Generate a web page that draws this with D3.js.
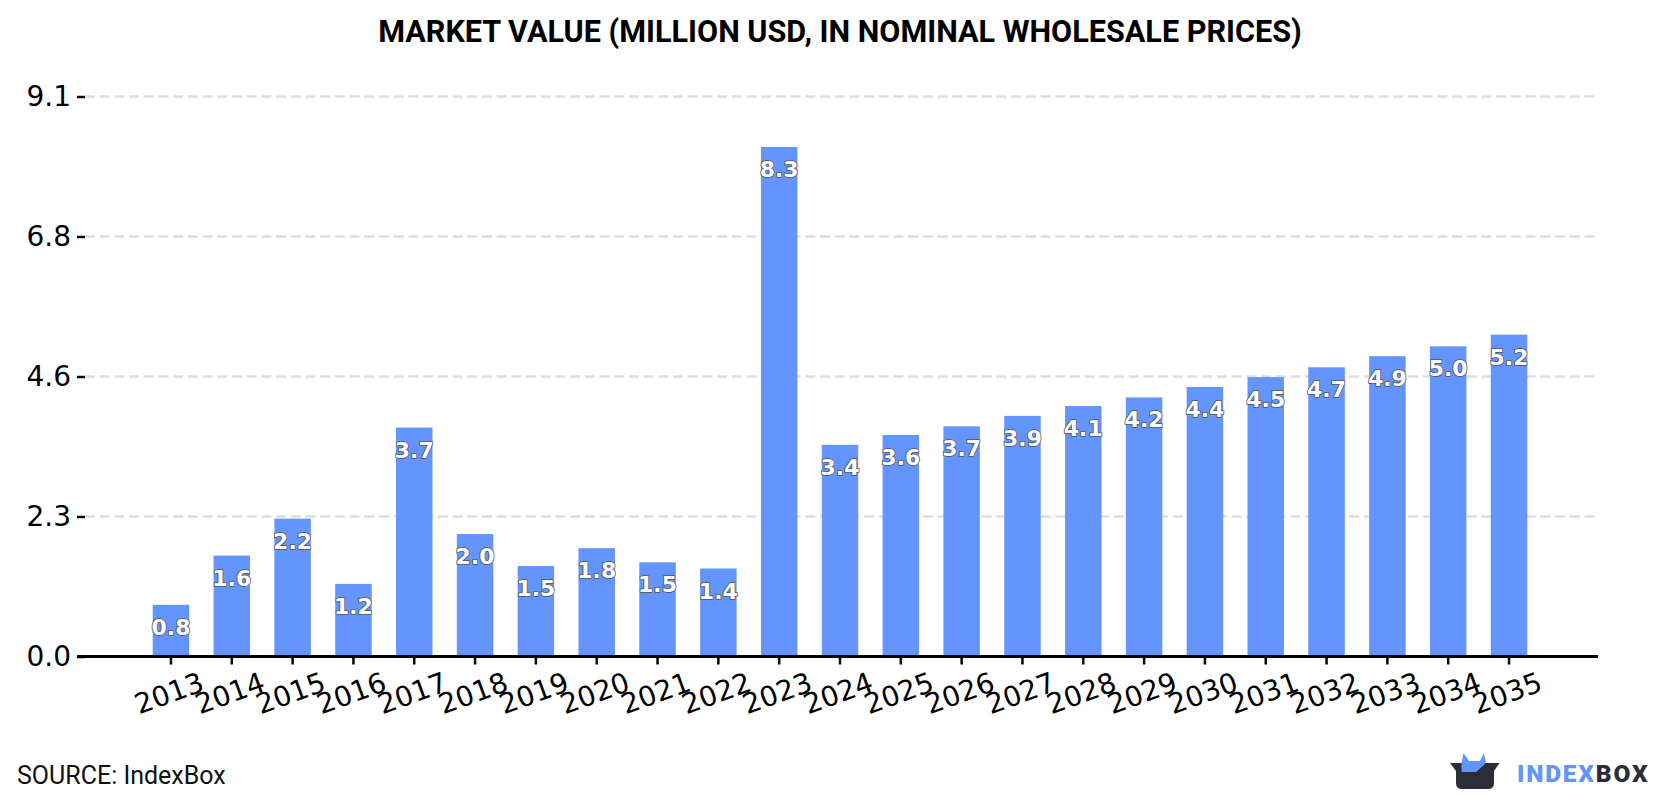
<!DOCTYPE html>
<html>
<head>
<meta charset="utf-8">
<script src="https://cdn.jsdelivr.net/npm/d3@7/dist/d3.min.js"></script>
<style>
  html, body { margin: 0; padding: 0; background: #fff; }
  svg { display: block; }
</style>
</head>
<body>
<svg id="chart" width="1680" height="800"></svg>
<script>
const years = [2013, 2014, 2015, 2016, 2017, 2018, 2019, 2020, 2021, 2022, 2023, 2024,
               2025, 2026, 2027, 2028, 2029, 2030, 2031, 2032, 2033, 2034, 2035];
const marketValue = [0.84, 1.64, 2.24, 1.18, 3.72, 1.99, 1.47, 1.76, 1.53, 1.43, 8.28, 3.44,
                     3.60, 3.74, 3.91, 4.07, 4.21, 4.38, 4.54, 4.70, 4.88, 5.04, 5.23];
const yTicks = [0, 2.275, 4.55, 6.825, 9.1];
const yTickLabels = ["0.0", "2.3", "4.6", "6.8", "9.1"];
const titleText = "MARKET VALUE (MILLION USD, IN NOMINAL WHOLESALE PRICES)";
const sourceText = "SOURCE: IndexBox";

const svg = d3.select("#chart");
const plot = { left: 85, right: 1597, top: 96.5, bottom: 656.5 };

const x = d3.scaleBand().domain(years).range([plot.left - 1, plot.right - 1])
  .paddingInner(0.4).paddingOuter(1.13);
const y = d3.scaleLinear().domain([0, 9.1]).range([plot.bottom, plot.top]);

// Title
svg.append("text")
  .attr("x", 840).attr("y", 41.5)
  .attr("text-anchor", "middle")
  .attr("font-family", "Roboto").attr("font-weight", 700).attr("font-size", 30.6)
  .attr("fill", "#000")
  .text(titleText);

// Horizontal dashed grid
svg.append("g").selectAll("line")
  .data(yTicks.slice(1))
  .join("line")
  .attr("x1", plot.left).attr("x2", plot.right)
  .attr("y1", d => y(d)).attr("y2", d => y(d))
  .attr("stroke", "#dedede").attr("stroke-width", 2.5)
  .attr("stroke-dasharray", "10 4.7");

// Bars
svg.append("g").selectAll("rect")
  .data(years)
  .join("rect")
  .attr("x", d => x(d))
  .attr("width", x.bandwidth())
  .attr("y", (d, i) => y(marketValue[i]))
  .attr("height", (d, i) => y(0) - y(marketValue[i]))
  .attr("fill", "#6495fe");

// Value labels with a dark halo under white digits
svg.append("g").selectAll("text")
  .data(years)
  .join("text")
  .attr("x", d => x(d) + x.bandwidth() / 2)
  .attr("y", (d, i) => y(marketValue[i]) + 30)
  .attr("text-anchor", "middle")
  .attr("font-family", "DejaVu Sans").attr("font-weight", 700).attr("font-size", 22)
  .attr("fill", "#fff")
  .attr("stroke", "#555").attr("stroke-width", 1.6)
  .attr("paint-order", "stroke")
  .text((d, i) => marketValue[i].toFixed(1));

// Y axis
const yAxis = d3.axisLeft(y)
  .tickValues(yTicks)
  .tickSize(8).tickPadding(6)
  .tickFormat((d, i) => yTickLabels[i]);
const gy = svg.append("g")
  .attr("transform", `translate(${plot.left},0)`)
  .call(yAxis);
gy.select(".domain").remove();
gy.selectAll(".tick line").attr("stroke", "#000").attr("stroke-width", 2.5);
gy.selectAll(".tick text")
  .attr("font-family", "DejaVu Sans").attr("font-size", 28).attr("fill", "#000");

// X axis
const xAxis = d3.axisBottom(x).tickSize(8).tickPadding(6);
const gx = svg.append("g")
  .attr("transform", `translate(0,${plot.bottom})`)
  .call(xAxis);
gx.select(".domain").attr("stroke", "#000").attr("stroke-width", 3)
  .attr("d", `M${plot.left - 8},0H${plot.right + 1}`);
gx.selectAll(".tick line").attr("stroke", "#000").attr("stroke-width", 2.5);
gx.selectAll(".tick text")
  .attr("font-family", "DejaVu Sans").attr("font-size", 28).attr("fill", "#000")
  .attr("text-anchor", "middle")
  .attr("transform", "translate(-2,36.5) rotate(-20)")
  .attr("y", 0).attr("dy", "0.355em");

// Source note
svg.append("text")
  .attr("x", 17).attr("y", 784)
  .attr("font-family", "Roboto").attr("font-size", 25).attr("fill", "#111")
  .text(sourceText);

// Brand mark and wordmark
const logo = svg.append("g");
logo.append("path")
  .attr("d", "M1450,763H1499.5L1494,771V783Q1494,789 1488,789H1462Q1456,789 1456,783V771Z")
  .attr("fill", "#2b2d38");
logo.append("path")
  .attr("d", "M1461.5,763L1463.5,753L1469,761H1480L1484,753L1486,763L1476,772H1461.5Z")
  .attr("fill", "#6495fe");
const wordmark = logo.append("text")
  .attr("x", 1517).attr("y", 782)
  .attr("font-family", "Roboto").attr("font-weight", 900).attr("font-size", 24.5)
  .attr("letter-spacing", 1.8);
wordmark.append("tspan").attr("fill", "#6495fe").text("INDEX");
wordmark.append("tspan").attr("fill", "#2b2d38").text("BOX");
</script>
</body>
</html>
